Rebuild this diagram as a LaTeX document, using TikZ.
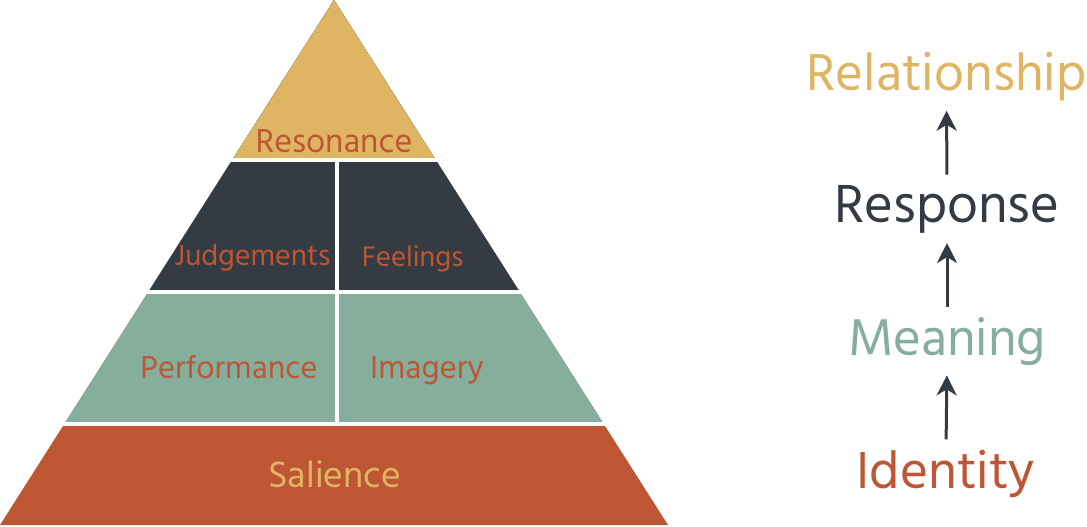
\documentclass[tikz,border=0pt]{standalone}
\usepackage{fontspec}
\setmainfont{Hind Madurai}
\usetikzlibrary{arrows.meta}
\definecolor{pgold}{HTML}{DFB563}
\definecolor{pdark}{HTML}{353B43}
\definecolor{pgreen}{HTML}{85AE9C}
\definecolor{pred}{HTML}{BF5633}
\tikzset{
  bandlbl/.style={anchor=base, inner sep=0pt},
  sidelbl/.style={anchor=base, inner sep=0pt},
  uparrow/.style={draw=pdark, line width=3pt, -{Stealth[length=20pt,width=20pt,inset=6pt]}, shorten <=10pt, shorten >=10pt},
  gapline/.style={draw=white, line width=4pt}
}
\newcommand{\fs}[1]{\fontsize{#1}{#1}\selectfont}
\begin{document}
\begin{tikzpicture}[x=1pt,y=-1pt]
\useasboundingbox (0,0) rectangle (1087,527);
% pyramid bands
\fill[pred] (0,525) -- (668,525) -- (334,0) -- cycle;
\fill[pgreen] (65.5,422) -- (602.5,422) -- (334,0) -- cycle;
\fill[pdark] (149.5,290) -- (518.5,290) -- (334,0) -- cycle;
\fill[pgold] (233.5,158) -- (434.5,158) -- (334,0) -- cycle;
% gaps
\draw[gapline] (0,160) -- (680,160);
\draw[gapline] (0,292) -- (680,292);
\draw[gapline] (0,424) -- (680,424);
\draw[gapline] (337,160) -- (337,424);
% band labels
\node[bandlbl, text=pred, font=\fs{34}] (res) at (334,152) {Resonance};
\node[bandlbl, text=pred, font=\fs{30}] (jud) at (252.5,265) {Judgements};
\node[bandlbl, text=pred, font=\fs{29}] (fee) at (412.5,266) {Feelings};
\node[bandlbl, text=pred, font=\fs{32.5}] (per) at (229,378) {Performance};
\node[bandlbl, text=pred, font=\fs{33}] (ima) at (427,378) {Imagery};
\node[bandlbl, text=pgold, font=\fs{37.5}] (sal) at (334.5,487) {Salience};
% side labels
\node[sidelbl, text=pgold, font=\fs{53.3}] (rel) at (946.5,90) {Relationship};
\node[sidelbl, text=pdark, font=\fs{55}] (rsp) at (947,222) {Response};
\node[sidelbl, text=pgreen, font=\fs{53}] (mea) at (947,355) {Meaning};
\node[sidelbl, text=pred, font=\fs{53.5}] (ide) at (946,488) {Identity};
\draw[uparrow] (rsp.north) -- (rel.south);
\draw[uparrow] (mea.north) -- (rsp.south);
\draw[uparrow] (ide.north) -- (mea.south);
\end{tikzpicture}
\end{document}
